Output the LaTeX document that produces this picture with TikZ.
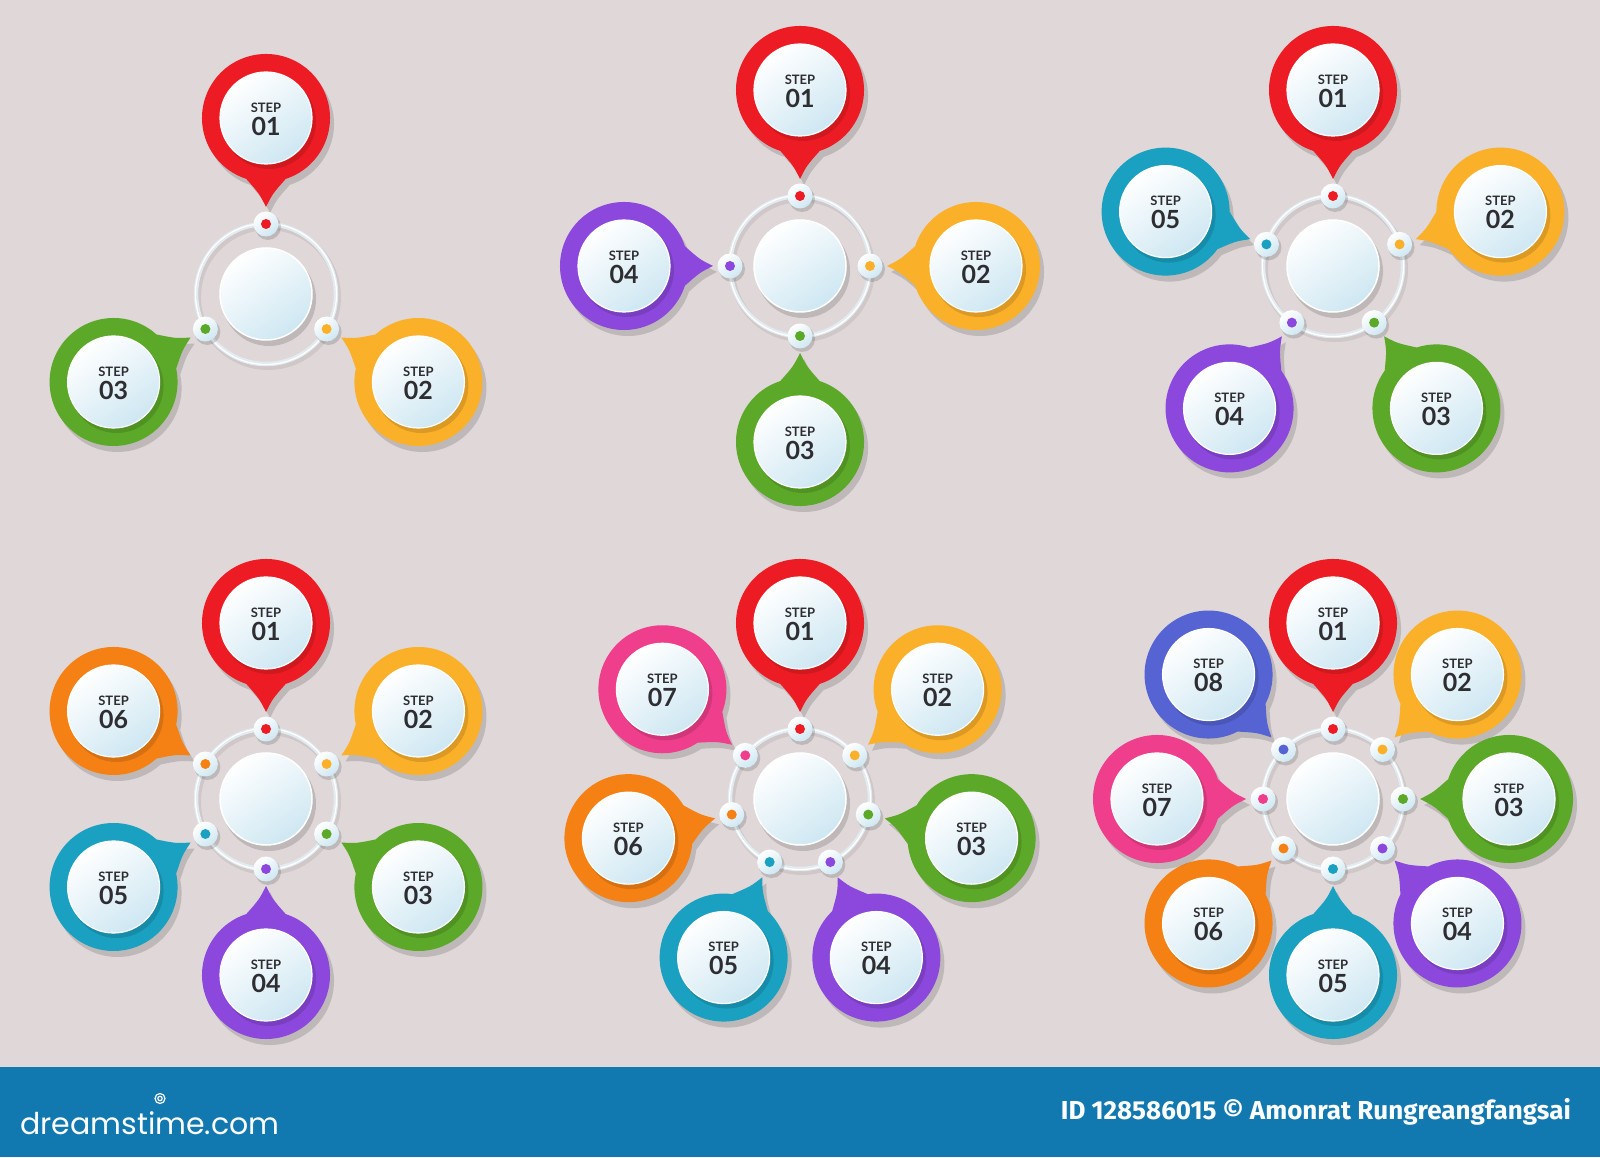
\documentclass[tikz,border=0pt]{standalone}
\usepackage{fontspec}
\setmainfont{Lato}
\newfontfamily\creditfont{Fira Sans}
\newfontfamily\logofont{Poppins}
\usetikzlibrary{calc}

\definecolor{bgpaper}{RGB}{223,215,216}
\definecolor{barblue}{RGB}{18,120,176}
\definecolor{ringgrey}{RGB}{226,235,240}
\definecolor{icyblue}{RGB}{206,231,242}
\definecolor{labelgrey}{RGB}{46,46,50}
\definecolor{stepred}{RGB}{237,28,36}
\definecolor{stepyellow}{RGB}{251,176,41}
\definecolor{stepgreen}{RGB}{92,168,40}
\definecolor{steppurple}{RGB}{140,72,220}
\definecolor{stepteal}{RGB}{26,160,192}
\definecolor{steporange}{RGB}{245,128,20}
\definecolor{steppink}{RGB}{238,62,140}
\definecolor{stepblue}{RGB}{85,100,210}

\tikzset{
  steplabel/.style={inner sep=0pt, text=labelgrey, font=\bfseries\fontsize{13}{13}\selectfont},
  stepnum/.style={inner sep=0pt, text=labelgrey, font=\bfseries\fontsize{25}{25}\selectfont},
  dropshadow/.style={black, opacity=.14},
  whitedisc/.style={top color=white, bottom color=icyblue, shading angle=35},
}

% outline of a bubble with its tail: #1 centre, #2 angle from hub to bubble
\newcommand{\bubpath}[2]{($(#1)+({#2+198}:64)$) arc[start angle={#2+198}, delta angle=324, radius=64]
  .. controls ($(#1)+({#2+175}:76)$) .. ($(#1)+({#2+180}:89)$)
  .. controls ($(#1)+({#2+185}:76)$) .. ($(#1)+({#2+198}:64)$) -- cycle}

% hub: #1 name, #2 position
\newcommand{\hubring}[2]{%
  \coordinate (#1) at (#2);
  \draw[black, opacity=.07, line width=6] ($(#1)+(2,-3)$) circle (70);
  \draw[ringgrey, line width=4.5] (#1) circle (70);
  \draw[white, line width=1.2] (#1) circle (70.5);
  \fill[dropshadow] ($(#1)+(3,-5)$) circle (47);
  \shade[whitedisc] (#1) circle (46);
  \draw[white, line width=1.5] (#1) circle (46);
}

% step bubble: #1 name, #2 hub, #3 angle, #4 colour, #5 number
\newcommand{\stepbub}[5]{%
  \coordinate (#1) at ($(#2)+({#3}:176)$);
  \coordinate (#1-sh) at ($(#1)+(4,-6)$);
  \fill[dropshadow] \bubpath{#1-sh}{#3};
  \fill[#4] \bubpath{#1}{#3};
  \fill[black, opacity=.12] ($(#1)+(3,-4)$) circle (47);
  \shade[whitedisc] (#1) circle (46);
  \draw[white, line width=1.2] (#1) circle (46);
  \node[steplabel] (#1-lbl) at ($(#1)+(0,10.5)$) {STEP};
  \node[stepnum] (#1-num) at ($(#1)+(0,-8)$) {#5};
  \coordinate (#1-dot) at ($(#2)+({#3}:70)$);
  \fill[dropshadow] ($(#1-dot)+(2,-3)$) circle (13);
  \shade[whitedisc] (#1-dot) circle (12.5);
  \fill[#4] (#1-dot) circle (5);
}

\begin{document}
\begin{tikzpicture}[x=1pt,y=1pt]
  \useasboundingbox (0,0) rectangle (1600,1157);
  \fill[bgpaper] (0,90) rectangle (1600,1157);

  % three steps
  \hubring{pa}{266,863}
  \stepbub{pa1}{pa}{90}{stepred}{01}
  \stepbub{pa2}{pa}{-30}{stepyellow}{02}
  \stepbub{pa3}{pa}{210}{stepgreen}{03}

  % four steps
  \hubring{pb}{800,891}
  \stepbub{pb1}{pb}{90}{stepred}{01}
  \stepbub{pb2}{pb}{0}{stepyellow}{02}
  \stepbub{pb3}{pb}{-90}{stepgreen}{03}
  \stepbub{pb4}{pb}{180}{steppurple}{04}

  % five steps
  \hubring{pc}{1333,891}
  \stepbub{pc1}{pc}{90}{stepred}{01}
  \stepbub{pc2}{pc}{18}{stepyellow}{02}
  \stepbub{pc3}{pc}{-54}{stepgreen}{03}
  \stepbub{pc4}{pc}{-126}{steppurple}{04}
  \stepbub{pc5}{pc}{162}{stepteal}{05}

  % six steps
  \hubring{pd}{266,358}
  \stepbub{pd1}{pd}{90}{stepred}{01}
  \stepbub{pd2}{pd}{30}{stepyellow}{02}
  \stepbub{pd3}{pd}{-30}{stepgreen}{03}
  \stepbub{pd4}{pd}{-90}{steppurple}{04}
  \stepbub{pd5}{pd}{-150}{stepteal}{05}
  \stepbub{pd6}{pd}{150}{steporange}{06}

  % seven steps
  \hubring{pe}{800,358}
  \stepbub{pe1}{pe}{90}{stepred}{01}
  \stepbub{pe2}{pe}{90-360/7}{stepyellow}{02}
  \stepbub{pe3}{pe}{90-720/7}{stepgreen}{03}
  \stepbub{pe4}{pe}{90-1080/7}{steppurple}{04}
  \stepbub{pe5}{pe}{90-1440/7}{stepteal}{05}
  \stepbub{pe6}{pe}{90-1800/7}{steporange}{06}
  \stepbub{pe7}{pe}{90-2160/7}{steppink}{07}

  % eight steps
  \hubring{pf}{1333,358}
  \stepbub{pf1}{pf}{90}{stepred}{01}
  \stepbub{pf2}{pf}{45}{stepyellow}{02}
  \stepbub{pf3}{pf}{0}{stepgreen}{03}
  \stepbub{pf4}{pf}{-45}{steppurple}{04}
  \stepbub{pf5}{pf}{-90}{stepteal}{05}
  \stepbub{pf6}{pf}{-135}{steporange}{06}
  \stepbub{pf7}{pf}{180}{steppink}{07}
  \stepbub{pf8}{pf}{135}{stepblue}{08}

  % footer bar
  \fill[barblue] (0,0) rectangle (1600,90);
  \node[anchor=west, inner sep=0pt, text=white, font=\logofont\fontsize{30}{30}\selectfont] (logo) at (20,34) {dreamstime.com};
  \draw[white, line width=1.2] (160,58.5) circle (5) (160,58.5) circle (2.2);
  \node[anchor=east, inner sep=0pt, text=white, font=\creditfont\bfseries\fontsize{26}{26}\selectfont] (credit) at (1571,45) {ID 128586015 © Amonrat Rungreangfangsai};
\end{tikzpicture}
\end{document}
